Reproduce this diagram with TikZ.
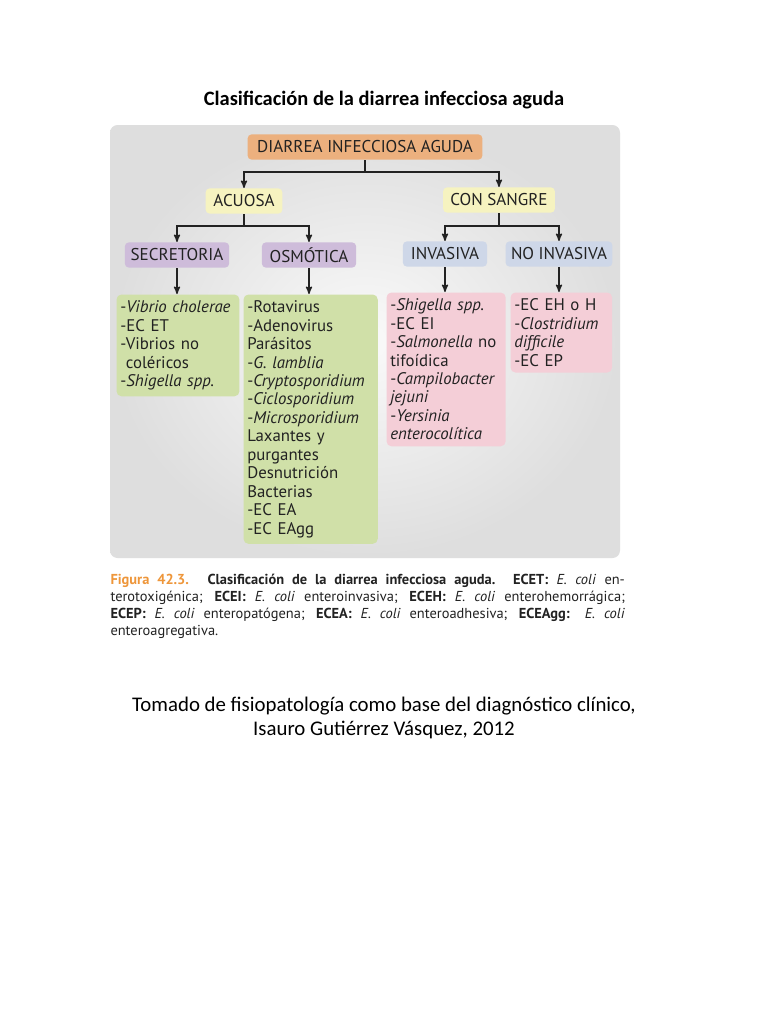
\documentclass[tikz,border=0pt]{standalone}
\usepackage{fontspec}
\setmainfont{Carlito}
\newfontfamily\libro{PT Sans}
\usepackage{tikz}
\usetikzlibrary{arrows,fit,positioning}
\definecolor{naranja}{RGB}{236,176,126}
\definecolor{amarillo}{RGB}{246,243,192}
\definecolor{lila}{RGB}{206,188,218}
\definecolor{azul}{RGB}{206,215,232}
\definecolor{verde}{RGB}{208,224,168}
\definecolor{rosa}{RGB}{244,206,215}
\definecolor{figura}{RGB}{238,150,58}
\definecolor{tinta}{RGB}{34,34,34}
\tikzset{
    %Define standard arrow tip
    >=stealth',
    %Define style for boxes
    raiz/.style={
           rectangle,
           rounded corners=3pt,
           fill=naranja,
           minimum width=187pt,
           minimum height=20pt,
           text=tinta,
           font=\libro\fontsize{13.6}{15}\selectfont,
           text centered},
    clase/.style={
           rectangle,
           rounded corners=3pt,
           fill=amarillo,
           minimum height=20pt,
           text=tinta,
           font=\libro\fontsize{13.6}{15}\selectfont,
           text centered},
    subclase/.style={
           rectangle,
           rounded corners=3pt,
           fill=#1,
           minimum height=20pt,
           text=tinta,
           font=\libro\fontsize{13.6}{15}\selectfont,
           text centered},
    agentes/.style={
           rectangle,
           rounded corners=4pt,
           fill=#1,
           anchor=north west,
           inner xsep=3pt,
           inner ysep=5pt,
           text=tinta,
           font=\libro\fontsize{13.4}{14.7}\selectfont,
           align=left},
    leyenda/.style={
           anchor=base west,
           inner sep=0pt,
           text=tinta,
           font=\libro\fontsize{11.5}{13}\selectfont},
    titulo/.style={
           font=\bfseries\fontsize{16.3}{19}\selectfont},
    pie/.style={
           font=\fontsize{16.6}{19}\selectfont},
    % Define arrow style
    pil/.style={
           ->,
           line width=1.1pt,
           draw=tinta}
}

\begin{document}
\begin{tikzpicture}[x=0.797pt,y=-0.797pt,thick]
\useasboundingbox (0,0) rectangle (768,1024);
\fill[white] (0,0) rectangle (768,1024);

 %title
\node[titulo] (t) at (384,100) {Clasificación de la diarrea infecciosa aguda};

 %figure background
\shade[inner color=gray!4, outer color=gray!26, rounded corners=6pt]
    (110,125) rectangle (620,558);

 %nodes
\node[raiz] (1) at (365,147) {DIARREA INFECCIOSA AGUDA};
\node[clase, minimum width=61pt] (2) at (244,201) {ACUOSA};
\node[clase, minimum width=89pt] (3) at (499,200) {CON SANGRE};
\node[subclase=lila, minimum width=83pt] (4) at (177,255) {SECRETORIA};
\node[subclase=lila, minimum width=75pt] (5) at (309,255) {OSMÓTICA};
\node[subclase=azul, minimum width=67pt] (6) at (445,254) {INVASIVA};
\node[subclase=azul, minimum width=85pt] (7) at (559,254) {NO INVASIVA};

\node[agentes=verde, text width=92pt] (8) at (116,294)
    {-\textit{Vibrio cholerae}\\-EC ET\\-Vibrios no\\\ coléricos\\-\textit{Shigella spp.}};
\node[agentes=verde, text width=101pt] (9) at (243,294)
    {-Rotavirus\\-Adenovirus\\Parásitos\\-\textit{G. lamblia}\\-\textit{Cryptosporidium}\\-\textit{Ciclosporidium}\\-\textit{Microsporidium}\\Laxantes y\\purgantes\\Desnutrición\\Bacterias\\-EC EA\\-EC EAgg};
\node[agentes=rosa, text width=89pt] (10) at (386,292)
    {-\textit{Shigella spp.}\\-EC EI\\-\textit{Salmonella} no\\tifoídica\\-\textit{Campilobacter}\\\textit{jejuni}\\-\textit{Yersinia}\\\textit{enterocolítica}};
\node[agentes=rosa, text width=75pt] (11) at (510,292)
    {-EC EH o H\\-\textit{Clostridium}\\\textit{difficile}\\-EC EP};

 %connectors
\draw[pil] (1.south) -- ++(0,12) -| (2.north);
\draw[pil] (1.south) -- ++(0,12) -| (3.north);
\draw[pil] (2.south) -- ++(0,12) -| (4.north);
\draw[pil] (2.south) -- ++(0,12) -| (5.north);
\draw[pil] (3.south) -- ++(0,13) -| (6.north);
\draw[pil] (3.south) -- ++(0,13) -| (7.north);
\draw[pil] (4) -- (8.north -| 4);
\draw[pil] (5) -- (9.north -| 5);
\draw[pil] (6) -- (10.north -| 6);
\draw[pil] (7) -- (11.north -| 7);

 %caption
\node[leyenda] (c1) at (110,584) {\makebox[410pt][s]{\textbf{\color{figura}Figura 42.3.} \textbf{Clasificación de la diarrea infecciosa aguda. ECET:} \textit{E. coli} en-}};
\node[leyenda] (c2) at (110,601) {\makebox[410pt][s]{terotoxigénica; \textbf{ECEI:} \textit{E. coli} enteroinvasiva; \textbf{ECEH:} \textit{E. coli} enterohemorrágica;}};
\node[leyenda] (c3) at (110,618) {\makebox[410pt][s]{\textbf{ECEP:} \textit{E. coli} enteropatógena; \textbf{ECEA:} \textit{E. coli} enteroadhesiva; \textbf{ECEAgg:} \textit{E. coli}}};
\node[leyenda] (c4) at (110,635) {enteroagregativa.};

 %source
\node[pie] (p1) at (384,706) {Tomado de fisiopatología como base del diagnóstico clínico,};
\node[pie] (p2) at (384,730) {Isauro Gutiérrez Vásquez, 2012};
\end{tikzpicture}
\end{document}
